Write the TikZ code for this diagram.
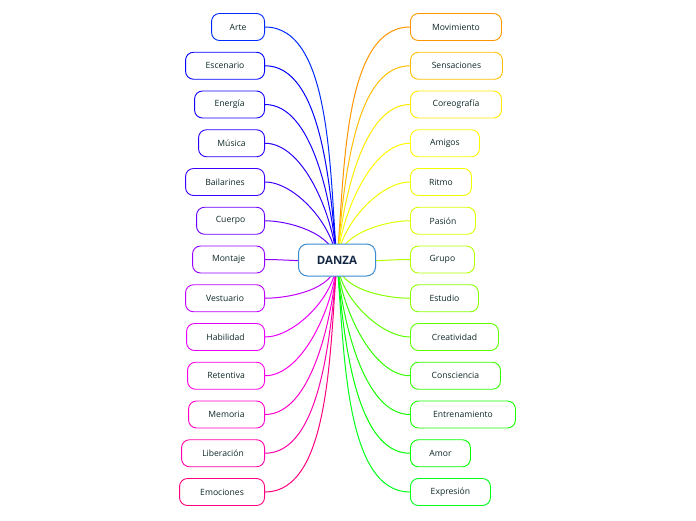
\documentclass[tikz,border=0pt]{standalone}
\usepackage{fontspec}
\setmainfont{Open Sans}
\begin{document}
\begin{tikzpicture}[x=1pt,y=-1pt,
  leaf/.style={draw=#1,line width=0.9pt,rounded corners=8pt,fill=white,minimum height=27pt,inner sep=0pt,font=\fontsize{8.6}{10}\selectfont,text={rgb,255:red,15;green,40;blue,40}},
  link/.style={draw=#1,line width=1pt}]
\useasboundingbox (0,0) rectangle (696,520);
\coordinate (c) at (337,262);
\foreach \t/\w/\h [count=\i] in {Arte/53/230,Escenario/79/240,Energía/70/245,Música/66/250,Bailarines/79/255,Cuerpo/68/265,Montaje/72/275,Vestuario/79/285,Habilidad/78/295,Retentiva/77/305,Memoria/76/312,Liberación/83/320,Emociones/85/330}{
  \definecolor{hc}{Hsb}{\h,1,1}
  \colorlet{lc}[rgb]{hc}
  \pgfmathsetmacro{\yy}{27+(\i-1)*38.75}
  \pgfmathsetmacro{\ang}{\i<7 ? 95 : (\i>7 ? -95 : 180)}
  \node[leaf=lc,minimum width=\w pt,anchor=east] (L\i) at (265,\yy) {\t};
  \draw[link=lc] (L\i.east) to[out=0,in=\ang,out looseness=0.7,in looseness=0.9] (c);
}
\foreach \t/\w/\h [count=\i] in {Movimiento/91/35,Sensaciones/92/45,Coreografía/91/55,Amigos/69/60,Ritmo/61/63,Pasión/65/68,Grupo/64/78,Estudio/68/88,Creatividad/88/98,Consciencia/90/108,Entrenamiento/105/114,Amor/60/120,Expresión/80/126}{
  \definecolor{hc}{Hsb}{\h,1,1}
  \colorlet{lc}[rgb]{hc}
  \pgfmathsetmacro{\yy}{27+(\i-1)*38.75}
  \pgfmathsetmacro{\ang}{\i<7 ? 85 : (\i>7 ? -85 : 0)}
  \node[leaf=lc,minimum width=\w pt,anchor=west] (R\i) at (410,\yy) {\t};
  \draw[link=lc] (R\i.west) to[out=180,in=\ang,out looseness=0.7,in looseness=0.9] (c);
}
\node[draw={rgb,255:red,58;green,138;blue,208},line width=1pt,rounded corners=9pt,fill=white,minimum width=77pt,minimum height=32pt,font=\fontsize{11.5}{13}\selectfont\bfseries,text={rgb,255:red,20;green,40;blue,70}] (d) at (337,260) {DANZA};
\end{tikzpicture}
\end{document}
